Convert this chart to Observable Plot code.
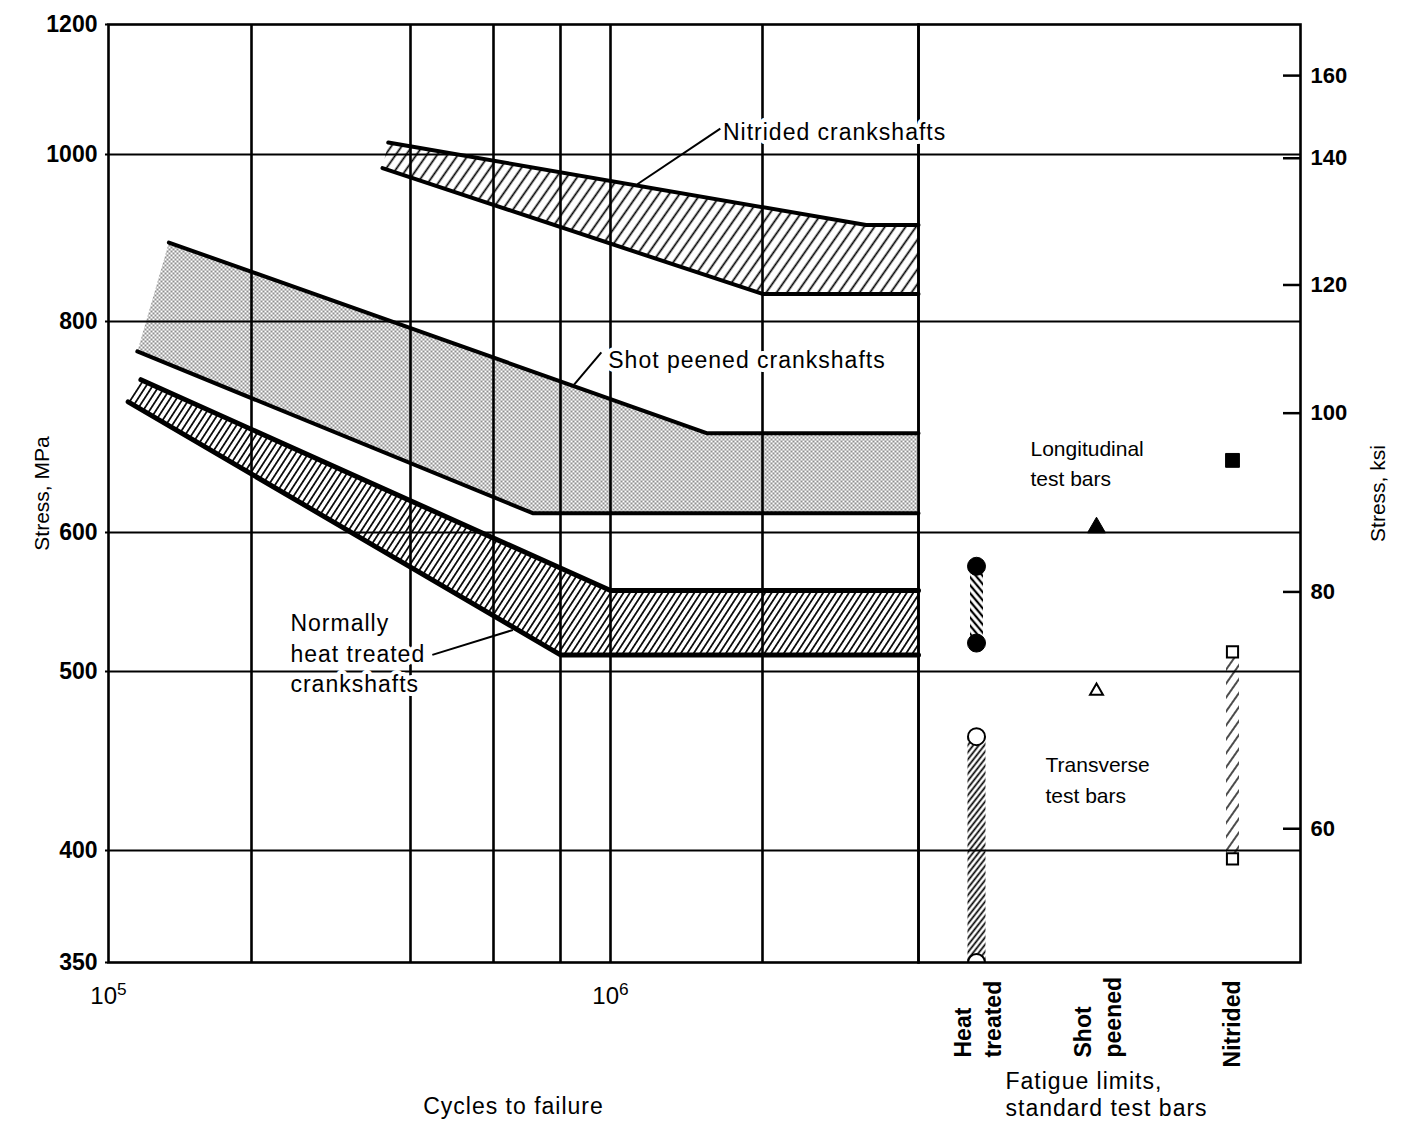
<!DOCTYPE html>
<html>
<head>
<meta charset="utf-8">
<script src="https://cdn.jsdelivr.net/npm/d3@7"></script>
<script src="https://cdn.jsdelivr.net/npm/@observablehq/plot@0.6"></script>
<style>
html, body { margin: 0; padding: 0; background: #fff; }
#chart { position: relative; width: 1402px; height: 1122px; overflow: hidden; background: #fff; }
#chart > svg { position: absolute; left: 0; top: 0; }
</style>
</head>
<body>
<svg width="0" height="0" style="position:absolute">
  <defs>
    <pattern id="hatchNitrided" patternUnits="userSpaceOnUse" width="8.5" height="20" patternTransform="rotate(35)">
      <line x1="4.25" y1="-2" x2="4.25" y2="22" stroke="#000" stroke-width="1.7"/>
    </pattern>
    <pattern id="hatchHeat" patternUnits="userSpaceOnUse" width="5.4" height="20" patternTransform="rotate(33)">
      <line x1="2.7" y1="-2" x2="2.7" y2="22" stroke="#000" stroke-width="1.7"/>
    </pattern>
    <pattern id="stipple" patternUnits="userSpaceOnUse" width="4" height="4">
      <rect width="4" height="4" fill="#fff"/>
      <circle cx="1" cy="1" r="0.8" fill="#000"/>
      <circle cx="3" cy="3" r="0.8" fill="#000"/>
    </pattern>
    <pattern id="stripBack" patternUnits="userSpaceOnUse" width="5.2" height="20" patternTransform="rotate(-40)">
      <line x1="2.6" y1="-2" x2="2.6" y2="22" stroke="#000" stroke-width="2.2"/>
    </pattern>
    <pattern id="stripDense" patternUnits="userSpaceOnUse" width="4.4" height="20" patternTransform="rotate(38)">
      <line x1="2.2" y1="-2" x2="2.2" y2="22" stroke="#000" stroke-width="1.7"/>
    </pattern>
    <pattern id="stripSparse" patternUnits="userSpaceOnUse" width="8" height="20" patternTransform="rotate(35)">
      <line x1="4" y1="-2" x2="4" y2="22" stroke="#000" stroke-width="1.4"/>
    </pattern>
  </defs>
</svg>
<div id="chart"></div>
<script>
// ---------------- data ----------------
// gridlines on the cycles axis (the frame closes the S-N part at 4e6)
const cycleGrid = [2e5, 4e5, 6e5, 8e5, 1e6, 2e6];
const cycleTicks = [1e5, 1e6];
const stressTicks = [350, 400, 500, 600, 800, 1000, 1200];
const stressGrid = [400, 500, 600, 800, 1000];
// secondary axis: ksi labels and the stress (MPa) at which each tick sits
const ksiTicks = [60, 80, 100, 120, 140, 160];
const ksiTickAtMPa = [411, 555, 706, 840, 995, 1117];

// scatter bands: [cycles, stress MPa]
const nitridedUpper = [[3.63e5, 1017], [3.17e6, 910], [4e6, 910]];
const nitridedLower = [[3.54e5, 982], [2e6, 830], [4e6, 830]];
const peenedUpper = [[1.34e5, 889], [1.55e6, 687], [4e6, 687]];
const peenedLower = [[1.15e5, 768], [7.1e5, 616], [4e6, 616]];
const heatUpper = [[1.17e5, 739], [1e6, 556], [4e6, 556]];
const heatLower = [[1.10e5, 717], [8e5, 511], [4e6, 511]];

// fatigue limits of standard test bars
const barTypes = ["Heat treated", "Shot peened", "Nitrided"];
const fatigueType = ["Heat treated", "Heat treated", "Shot peened", "Nitrided", "Heat treated", "Heat treated", "Shot peened", "Nitrided", "Nitrided"];
const fatigueBar = ["Longitudinal", "Longitudinal", "Longitudinal", "Longitudinal", "Transverse", "Transverse", "Transverse", "Transverse", "Transverse"];
const fatigueMPa = [574, 519, 604, 662, 461, 350, 488, 513, 396];
const rangeType = ["Heat treated", "Heat treated", "Nitrided"];
const rangeBar = ["Longitudinal", "Transverse", "Transverse"];
const rangeLow = [519, 350, 396];
const rangeHigh = [574, 461, 513];

// band labels and their leader lines
const bandLabelText = ["Nitrided crankshafts", "Shot peened crankshafts", "Normally\nheat treated\ncrankshafts"];
const bandLabelCycles = [1.67e6, 9.9e5, 2.37e5];
const bandLabelMPa = [1034, 761, 513];
const leaderFromCycles = [1.65e6, 9.6e5, 4.45e5];
const leaderFromMPa = [1037, 767, 511];
const leaderToCycles = [1.13e6, 8.5e5, 6.52e5];
const leaderToMPa = [961, 734, 528];

// ---------------- build ----------------
const W = 1402, H = 1122;
const FONT = "'Liberation Sans', Arial, Helvetica, sans-serif";
const pts = a => a.map(([c, s]) => ({cycles: c, mpa: s}));
const polygon = (up, lo) => [...pts(up), ...pts(lo).reverse()];

const yScale = {
  type: "log",
  domain: [350, 400, 500, 600, 800, 1000, 1200],
  range: [962, 850, 671, 532, 321, 154, 24],
  axis: null
};

const bands = [
  {upper: nitridedUpper, lower: nitridedLower, fill: "url(#hatchNitrided)", w: 4},
  {upper: peenedUpper, lower: peenedLower, fill: "url(#stipple)", w: 4},
  {upper: heatUpper, lower: heatLower, fill: "url(#hatchHeat)", w: 5}
];

const leftMarks = [];
for (const b of bands) {
  leftMarks.push(Plot.line(polygon(b.upper, b.lower), {x: "cycles", y: "mpa", fill: b.fill, stroke: "none"}));
}
leftMarks.push(Plot.ruleX(cycleGrid, {stroke: "#000", strokeWidth: 2.6}));
leftMarks.push(Plot.ruleY(stressGrid, {stroke: "#000", strokeWidth: 2}));
for (const b of bands) {
  leftMarks.push(Plot.line(pts(b.upper), {x: "cycles", y: "mpa", stroke: "#000", strokeWidth: b.w, strokeLinejoin: "miter"}));
  leftMarks.push(Plot.line(pts(b.lower), {x: "cycles", y: "mpa", stroke: "#000", strokeWidth: b.w, strokeLinejoin: "miter"}));
}
leftMarks.push(Plot.frame({stroke: "#000", strokeWidth: 2.6}));
const bandLabels = bandLabelText.map((t, i) => ({text: t, cycles: bandLabelCycles[i], mpa: bandLabelMPa[i]}));
leftMarks.push(Plot.text(bandLabels, {
  x: "cycles", y: "mpa", text: "text", textAnchor: "start", lineAnchor: "middle", lineHeight: 1.33,
  fontSize: 23, fontFamily: FONT, fill: "#000", stroke: "#fff", strokeWidth: 8, paintOrder: "stroke"
}));
const leaders = leaderFromCycles.map((c, i) => ({x1: c, y1: leaderFromMPa[i], x2: leaderToCycles[i], y2: leaderToMPa[i]}));
leftMarks.push(Plot.link(leaders, {x1: "x1", y1: "y1", x2: "x2", y2: "y2", stroke: "#000", strokeWidth: 2}));
leftMarks.push(Plot.axisY(stressTicks, {anchor: "left", tickSize: 3, tickPadding: 8, tickFormat: d => String(d), fontSize: 23, fontWeight: "bold", fontFamily: FONT, label: null, strokeWidth: 2}));
leftMarks.push(Plot.axisX(cycleTicks, {anchor: "bottom", tickSize: 0, tickPadding: 24, tickFormat: d => "10^" + Math.round(Math.log10(d)), fontSize: 24, fontFamily: FONT, label: null}));
leftMarks.push(Plot.text(["Cycles to failure"], {frameAnchor: "bottom", lineAnchor: "middle", dy: 144, fontSize: 23, fontFamily: FONT}));
leftMarks.push(Plot.text(["Stress, MPa"], {frameAnchor: "left", textAnchor: "middle", lineAnchor: "middle", dx: -66, rotate: -90, fontSize: 21, fontFamily: FONT}));

const left = Plot.plot({
  width: W, height: H,
  marginLeft: 108, marginRight: W - 918, marginTop: 24, marginBottom: H - 962,
  style: {background: "transparent", overflow: "visible", fontFamily: FONT, color: "#000"},
  x: {type: "log", domain: [1e5, 2e5, 4e5, 6e5, 8e5, 1e6, 2e6, 4e6], range: [108, 251, 410, 493, 560, 610, 762, 918], axis: null},
  y: yScale,
  marks: leftMarks
});

// ---------- right part: fatigue limits of standard test bars ----------
const fatigue = fatigueType.map((t, i) => ({type: t, bar: fatigueBar[i], mpa: fatigueMPa[i]}));
const ranges = rangeType.map((t, i) => ({type: t, bar: rangeBar[i], lo: rangeLow[i], hi: rangeHigh[i]}));
const typeIndex = d => barTypes.indexOf(d.type);

const stripStyle = {
  "Heat treated|Longitudinal": {stroke: "url(#stripBack)", w: 13},
  "Heat treated|Transverse": {stroke: "url(#stripDense)", w: 18},
  "Nitrided|Transverse": {stroke: "url(#stripSparse)", w: 13}
};
const symbolOf = {"Heat treated": "circle", "Shot peened": "triangle", "Nitrided": "square"};
const markerR = {
  "circle|Longitudinal": 9, "circle|Transverse": 8.5,
  "triangle|Longitudinal": 6.7, "triangle|Transverse": 4.8,
  "square|Longitudinal": 7.8, "square|Transverse": 6.3
};

const rightMarks = [];
rightMarks.push(Plot.ruleY(stressGrid, {stroke: "#000", strokeWidth: 2}));
for (const r of ranges) {
  const s = stripStyle[r.type + "|" + r.bar];
  rightMarks.push(Plot.ruleX([r], {x: typeIndex, y1: "lo", y2: "hi", stroke: s.stroke, strokeWidth: s.w, clip: "frame"}));
}
for (const t of barTypes) {
  for (const bar of ["Longitudinal", "Transverse"]) {
    const sub = fatigue.filter(d => d.type === t && d.bar === bar);
    if (!sub.length) continue;
    const sym = symbolOf[t];
    const filled = bar === "Longitudinal";
    rightMarks.push(Plot.dot(sub, {
      x: typeIndex, y: "mpa", symbol: sym, r: markerR[sym + "|" + bar],
      fill: filled ? "#000" : "#fff", stroke: "#000", strokeWidth: filled ? 1 : 2, clip: "frame"
    }));
  }
}
rightMarks.push(Plot.frame({stroke: "#000", strokeWidth: 2.6}));
rightMarks.push(Plot.tickY(ksiTickAtMPa, {y: d => d, insetLeft: 365, stroke: "#000", strokeWidth: 2.5}));
const ksiByMPa = new Map(ksiTickAtMPa.map((m, i) => [m, ksiTicks[i]]));
rightMarks.push(Plot.axisY(ksiTickAtMPa, {anchor: "right", tickSize: 0, tickPadding: 10, tickFormat: d => String(ksiByMPa.get(d)), fontSize: 22, fontWeight: "bold", fontFamily: FONT, label: null}));
rightMarks.push(Plot.text(["Stress, ksi"], {frameAnchor: "right", textAnchor: "middle", lineAnchor: "middle", dx: 78, rotate: -90, fontSize: 21, fontFamily: FONT}));
// group annotations
const groupNotes = [
  {text: "Longitudinal\ntest bars", type: "Shot peened", mpa: 661, dx: -66},
  {text: "Transverse\ntest bars", type: "Shot peened", mpa: 438, dx: -51}
];
for (const g of groupNotes) {
  rightMarks.push(Plot.text([g], {x: typeIndex, y: "mpa", text: "text", dx: g.dx, textAnchor: "start", lineAnchor: "middle", lineHeight: 1.45, fontSize: 21, fontFamily: FONT}));
}
// category labels below the frame
const catLabels = [
  {type: "Heat treated", text: "Heat\ntreated"},
  {type: "Shot peened", text: "Shot\npeened"},
  {type: "Nitrided", text: "Nitrided"}
];
rightMarks.push(Plot.text(catLabels.filter(d => d.text.includes("\n")), {
  x: typeIndex, frameAnchor: "bottom", dy: 95, rotate: -90, textAnchor: "start", lineAnchor: "middle", lineHeight: 1.3,
  text: "text", fontSize: 23, fontWeight: "bold", fontFamily: FONT
}));
rightMarks.push(Plot.text(catLabels.filter(d => !d.text.includes("\n")), {
  x: typeIndex, frameAnchor: "bottom", dy: 18, rotate: -90, textAnchor: "end", lineAnchor: "middle",
  text: "text", fontSize: 23, fontWeight: "bold", fontFamily: FONT
}));
rightMarks.push(Plot.text(["Fatigue limits,\nstandard test bars"], {
  frameAnchor: "bottom-left", dx: 87, dy: 131, textAnchor: "start", lineAnchor: "middle", lineHeight: 1.2,
  fontSize: 23, fontFamily: FONT
}));

const right = Plot.plot({
  width: W, height: H,
  marginLeft: 918, marginRight: 102, marginTop: 24, marginBottom: H - 962,
  style: {background: "transparent", overflow: "visible", fontFamily: FONT, color: "#000"},
  x: {type: "linear", domain: [0, 1, 2], range: [976, 1096, 1232], axis: null},
  y: yScale,
  marks: rightMarks
});

// typographic touches: superscript exponents and the wide letter spacing of the labels
for (const t of left.querySelectorAll("text")) {
  const s = t.textContent;
  const m = /^10\^(\d+)$/.exec(s);
  if (m) {
    t.textContent = "10";
    const sup = document.createElementNS("http://www.w3.org/2000/svg", "tspan");
    sup.setAttribute("dy", "-0.5em");
    sup.setAttribute("font-size", "0.72em");
    sup.textContent = m[1];
    t.appendChild(sup);
  }
}
for (const svg of [left, right]) {
  for (const t of svg.querySelectorAll("text")) {
    const s = t.textContent;
    if (/crankshafts|Cycles|Fatigue/.test(s)) t.setAttribute("letter-spacing", "1");
  }
}

const chart = document.getElementById("chart");
chart.appendChild(right);
chart.appendChild(left);
</script>
</body>
</html>
